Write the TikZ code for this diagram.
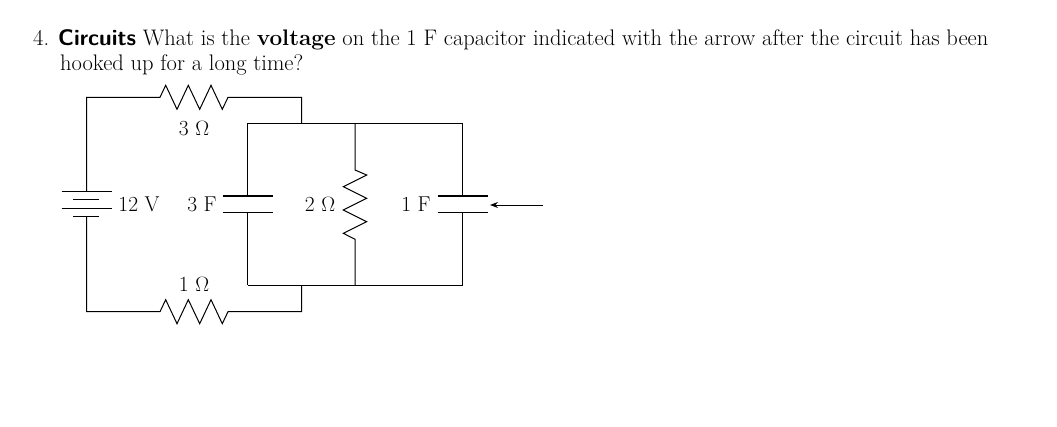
\documentclass[tikz,border=0pt]{standalone}
\usepackage{tikz}
\usetikzlibrary{arrows.meta}
\begin{document}
\begin{tikzpicture}[x=1pt,y=-1pt,
  wire/.style={line width=1pt,line join=miter},
  plate/.style={line width=1.3pt},
  lbl/.style={font=\fontsize{21.5}{25}\selectfont,inner sep=0pt},
  txt/.style={font=\fontsize{22.5}{27}\selectfont,inner sep=0pt,anchor=base west}]
\useasboundingbox (0,0) rectangle (1057,426);
\node[txt] (l1) at (33,45) {4. \textsf{\bfseries Circuits} What is the \textbf{voltage} on the 1 F capacitor indicated with the arrow after the circuit has been};
\node[txt] (l2) at (60,70) {hooked up for a long time?};
% coordinates
\coordinate (TL) at (86.7,97.3);
\coordinate (TR) at (301.7,97.3);
\coordinate (BL) at (86.7,311.7);
\coordinate (BR) at (301.7,311.7);
\coordinate (BatT) at (86.7,191.7);
\coordinate (BatB) at (86.7,216.7);
\coordinate (IT) at (301.7,123.3);
\coordinate (IB) at (301.7,285);
\coordinate (A1) at (247.7,123.3);
\coordinate (A2) at (247.7,285);
\coordinate (M1) at (355,123.3);
\coordinate (M2) at (355,285);
\coordinate (C1) at (462.7,123.3);
\coordinate (C2) at (462.7,285);
% outer loop with resistors
\draw[wire] (BatT) -- (TL) -- (160,97.3) -- (165.7,85.3) -- (177,109.3) -- (188.3,85.3) -- (199.7,109.3) -- (211,85.3) -- (222.3,109.3) -- (228,97.3) -- (TR) -- (IT);
\draw[wire] (BatB) -- (BL) -- (160,311.7) -- (165.7,299.7) -- (177,323.7) -- (188.3,299.7) -- (199.7,323.7) -- (211,299.7) -- (222.3,323.7) -- (228,311.7) -- (BR) -- (IB);
% battery
\draw[plate] (61.7,191.7) -- (111.7,191.7) (61.7,208.3) -- (111.7,208.3);
\draw[plate] (73,199.7) -- (99,199.7) (73,216.7) -- (99,216.7);
% inner box
\draw[wire] (A1) -- (C1) (A2) -- (C2);
\draw[wire] (A1) -- (247.7,196) (247.7,212.7) -- (A2);
\draw[plate] (222.7,196) -- (272.7,196) (222.7,212.7) -- (272.7,212.7);
\draw[wire] (C1) -- (462.7,196) (462.7,212.7) -- (C2);
\draw[plate] (437.7,196) -- (487.7,196) (437.7,212.7) -- (487.7,212.7);
\draw[wire] (M1) -- (355,170) -- (366.7,175) -- (343.3,186.7) -- (366.7,198.3) -- (343.3,210) -- (366.7,221.7) -- (343.3,233.3) -- (355,239.3) -- (M2);
% arrow
\coordinate (AR) at (543,205);
\coordinate (AH) at (490,205);
\draw[wire,-{Stealth[length=8pt,width=6pt]}] (AR) -- (AH);
% labels
\node[lbl] (v) at (139,204) {12 V};
\node[lbl] (c3) at (202,204) {3 F};
\node[lbl] (r2) at (320,204) {2 $\Omega$};
\node[lbl] (c1) at (416,204) {1 F};
\node[lbl] (r3) at (194,129) {3 $\Omega$};
\node[lbl] (r1) at (194,284) {1 $\Omega$};
\end{tikzpicture}
\end{document}
